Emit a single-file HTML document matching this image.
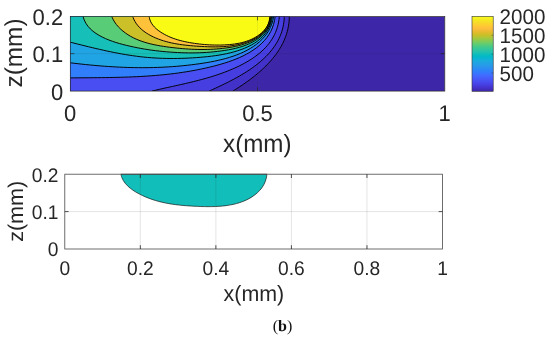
<!DOCTYPE html>
<html><head><meta charset="utf-8"><title>figure</title>
<style>html,body{margin:0;padding:0;background:#fff}svg{display:block}text{text-rendering:geometricPrecision}</style></head>
<body>
<svg width="550" height="339" viewBox="0 0 550 339">
<defs><clipPath id="c1"><rect x="70.3" y="16.4" width="374.5" height="74.7"/></clipPath>
<linearGradient id="cb" x1="0" y1="1" x2="0" y2="0"><stop offset="0.0000" stop-color="#3e26a8"/><stop offset="0.0323" stop-color="#422ec0"/><stop offset="0.0645" stop-color="#4537d6"/><stop offset="0.0968" stop-color="#4742e6"/><stop offset="0.1290" stop-color="#484df1"/><stop offset="0.1613" stop-color="#4759f8"/><stop offset="0.1935" stop-color="#4464fd"/><stop offset="0.2258" stop-color="#3d71ff"/><stop offset="0.2581" stop-color="#317dfc"/><stop offset="0.2903" stop-color="#2d88f6"/><stop offset="0.3226" stop-color="#2a93ed"/><stop offset="0.3548" stop-color="#259de7"/><stop offset="0.3871" stop-color="#1ea6e1"/><stop offset="0.4194" stop-color="#15afd9"/><stop offset="0.4516" stop-color="#05b6cd"/><stop offset="0.4839" stop-color="#06bcc0"/><stop offset="0.5161" stop-color="#1ec0b2"/><stop offset="0.5484" stop-color="#2fc5a3"/><stop offset="0.5806" stop-color="#3cc992"/><stop offset="0.6129" stop-color="#52cc7e"/><stop offset="0.6452" stop-color="#6dcd68"/><stop offset="0.6774" stop-color="#8bcb51"/><stop offset="0.7097" stop-color="#a7c73c"/><stop offset="0.7419" stop-color="#c2c22c"/><stop offset="0.7742" stop-color="#dabd28"/><stop offset="0.8065" stop-color="#eeba34"/><stop offset="0.8387" stop-color="#fdbd3d"/><stop offset="0.8710" stop-color="#fec934"/><stop offset="0.9032" stop-color="#fad52d"/><stop offset="0.9355" stop-color="#f5e227"/><stop offset="0.9677" stop-color="#f5ef20"/><stop offset="1.0000" stop-color="#f9fb15"/></linearGradient></defs>
<rect width="550" height="339" fill="#fff"/>
<g clip-path="url(#c1)">
<rect x="70.3" y="16.4" width="374.5" height="74.7" fill="#3e26a8"/>
<path d="M289.30,16.40 C289.30,16.69 289.29,17.56 289.27,18.13 C289.25,18.71 289.22,19.28 289.19,19.85 C289.15,20.42 289.11,20.99 289.06,21.55 C289.00,22.12 288.94,22.68 288.88,23.24 C288.81,23.79 288.73,24.35 288.65,24.90 C288.57,25.45 288.48,26.00 288.38,26.55 C288.28,27.10 288.17,27.64 288.06,28.18 C287.95,28.72 287.83,29.26 287.70,29.80 C287.57,30.33 287.44,30.86 287.29,31.39 C287.15,31.92 287.00,32.45 286.85,32.97 C286.69,33.50 286.53,34.02 286.36,34.53 C286.19,35.05 286.01,35.57 285.83,36.08 C285.65,36.59 285.46,37.10 285.26,37.61 C285.07,38.12 284.87,38.62 284.66,39.12 C284.45,39.62 284.23,40.12 284.01,40.62 C283.79,41.11 283.57,41.60 283.33,42.10 C283.10,42.59 282.86,43.07 282.62,43.56 C282.37,44.04 282.12,44.52 281.87,45.00 C281.61,45.48 281.35,45.96 281.08,46.43 C280.81,46.91 280.54,47.38 280.26,47.85 C279.99,48.31 279.70,48.78 279.41,49.24 C279.13,49.71 278.83,50.17 278.53,50.62 C278.24,51.08 277.93,51.54 277.62,51.99 C277.32,52.44 277.00,52.89 276.69,53.34 C276.37,53.78 276.05,54.23 275.72,54.67 C275.39,55.11 275.06,55.55 274.72,55.99 C274.39,56.42 274.05,56.86 273.70,57.29 C273.36,57.72 273.01,58.15 272.66,58.57 C272.30,59.00 271.95,59.42 271.59,59.84 C271.23,60.27 270.86,60.68 270.49,61.10 C270.12,61.52 269.75,61.93 269.38,62.34 C269.00,62.75 268.62,63.16 268.24,63.56 C267.86,63.97 267.47,64.37 267.08,64.77 C266.69,65.17 266.30,65.57 265.90,65.96 C265.51,66.36 265.11,66.75 264.71,67.14 C264.30,67.53 263.90,67.92 263.49,68.31 C263.08,68.69 262.67,69.07 262.26,69.45 C261.85,69.84 261.43,70.21 261.01,70.59 C260.59,70.96 260.17,71.34 259.75,71.71 C259.33,72.08 258.90,72.45 258.47,72.81 C258.04,73.18 257.61,73.54 257.18,73.90 C256.75,74.26 256.32,74.62 255.88,74.98 C255.45,75.33 255.01,75.68 254.57,76.04 C254.13,76.39 253.69,76.74 253.25,77.08 C252.80,77.43 252.36,77.77 251.91,78.11 C251.47,78.45 251.02,78.79 250.57,79.13 C250.12,79.47 249.67,79.80 249.22,80.13 C248.77,80.47 248.32,80.80 247.87,81.12 C247.42,81.45 246.96,81.78 246.51,82.10 C246.05,82.42 245.60,82.74 245.14,83.06 C244.69,83.38 244.23,83.69 243.77,84.01 C243.32,84.32 242.86,84.63 242.40,84.94 C241.94,85.25 241.49,85.56 241.03,85.86 C240.57,86.17 240.11,86.47 239.65,86.77 C239.20,87.07 238.74,87.36 238.28,87.66 C237.82,87.96 237.36,88.25 236.91,88.54 C236.45,88.83 235.99,89.12 235.54,89.41 C235.08,89.69 234.62,89.98 234.17,90.26 C233.71,90.54 233.03,90.96 232.80,91.10 L232.80,111.10 L50.30,111.10 L50.30,-3.60 L289.30,-3.60 Z" fill="#4332c9" stroke="none"/>
<path d="M284.31,16.40 C284.29,16.74 284.26,17.76 284.22,18.43 C284.18,19.10 284.12,19.76 284.06,20.42 C283.99,21.08 283.92,21.74 283.83,22.39 C283.74,23.03 283.64,23.68 283.54,24.31 C283.43,24.95 283.31,25.58 283.18,26.21 C283.04,26.83 282.90,27.46 282.75,28.07 C282.60,28.69 282.44,29.30 282.27,29.90 C282.09,30.50 281.91,31.10 281.72,31.70 C281.53,32.29 281.33,32.88 281.12,33.46 C280.90,34.05 280.68,34.62 280.45,35.20 C280.22,35.77 279.98,36.34 279.73,36.90 C279.49,37.46 279.23,38.02 278.96,38.58 C278.69,39.13 278.42,39.68 278.14,40.22 C277.85,40.76 277.56,41.30 277.26,41.83 C276.96,42.37 276.65,42.89 276.33,43.42 C276.01,43.94 275.69,44.46 275.35,44.98 C275.02,45.49 274.68,46.00 274.33,46.50 C273.98,47.01 273.63,47.51 273.26,48.01 C272.90,48.50 272.53,48.99 272.15,49.48 C271.77,49.97 271.39,50.45 271.00,50.93 C270.61,51.40 270.21,51.88 269.80,52.35 C269.40,52.82 268.99,53.28 268.57,53.74 C268.15,54.20 267.73,54.66 267.30,55.11 C266.87,55.56 266.43,56.01 265.99,56.45 C265.55,56.90 265.10,57.34 264.65,57.77 C264.19,58.21 263.74,58.64 263.27,59.07 C262.81,59.50 262.34,59.92 261.86,60.34 C261.39,60.76 260.91,61.18 260.43,61.59 C259.94,62.00 259.45,62.41 258.96,62.82 C258.47,63.22 257.97,63.62 257.47,64.02 C256.97,64.42 256.46,64.81 255.95,65.20 C255.44,65.59 254.92,65.98 254.41,66.36 C253.89,66.74 253.37,67.12 252.84,67.50 C252.32,67.87 251.79,68.24 251.25,68.61 C250.72,68.98 250.19,69.35 249.65,69.71 C249.11,70.07 248.57,70.43 248.02,70.79 C247.48,71.14 246.93,71.50 246.38,71.85 C245.83,72.20 245.28,72.54 244.73,72.89 C244.17,73.23 243.62,73.57 243.06,73.91 C242.50,74.24 241.94,74.58 241.38,74.91 C240.82,75.24 240.25,75.57 239.69,75.89 C239.12,76.22 238.55,76.54 237.98,76.86 C237.42,77.18 236.85,77.50 236.28,77.81 C235.71,78.13 235.13,78.44 234.56,78.75 C233.99,79.06 233.42,79.36 232.84,79.67 C232.27,79.97 231.69,80.27 231.12,80.57 C230.54,80.87 229.97,81.16 229.39,81.46 C228.82,81.75 228.24,82.04 227.67,82.33 C227.09,82.62 226.52,82.90 225.95,83.19 C225.37,83.47 224.80,83.75 224.23,84.03 C223.65,84.31 223.08,84.59 222.51,84.87 C221.94,85.14 221.37,85.41 220.80,85.69 C220.23,85.96 219.66,86.23 219.09,86.49 C218.53,86.76 217.96,87.02 217.40,87.29 C216.84,87.55 216.27,87.81 215.72,88.07 C215.16,88.33 214.60,88.59 214.04,88.84 C213.49,89.10 212.93,89.35 212.38,89.61 C211.83,89.86 211.28,90.11 210.74,90.36 C210.19,90.61 209.38,90.97 209.11,91.10 L209.11,111.10 L50.30,111.10 L50.30,-3.60 L284.31,-3.60 Z" fill="#463ee1" stroke="none"/>
<path d="M279.32,16.40 C279.27,16.88 279.16,18.33 279.04,19.27 C278.93,20.21 278.79,21.14 278.62,22.05 C278.46,22.97 278.27,23.87 278.06,24.75 C277.85,25.64 277.62,26.51 277.36,27.36 C277.10,28.22 276.83,29.06 276.53,29.89 C276.23,30.72 275.90,31.54 275.56,32.34 C275.22,33.14 274.86,33.93 274.48,34.71 C274.10,35.49 273.70,36.25 273.28,37.00 C272.86,37.75 272.42,38.49 271.96,39.21 C271.50,39.94 271.03,40.65 270.54,41.35 C270.04,42.06 269.53,42.74 269.01,43.42 C268.48,44.10 267.94,44.77 267.39,45.42 C266.83,46.07 266.26,46.72 265.67,47.35 C265.08,47.98 264.48,48.60 263.86,49.21 C263.25,49.82 262.62,50.42 261.98,51.00 C261.34,51.59 260.68,52.17 260.01,52.73 C259.35,53.30 258.67,53.86 257.98,54.40 C257.29,54.95 256.58,55.48 255.87,56.01 C255.16,56.54 254.44,57.05 253.71,57.56 C252.98,58.07 252.23,58.56 251.48,59.05 C250.73,59.54 249.97,60.02 249.21,60.49 C248.44,60.96 247.67,61.42 246.88,61.87 C246.10,62.33 245.31,62.77 244.52,63.20 C243.73,63.64 242.92,64.07 242.12,64.49 C241.31,64.90 240.50,65.32 239.68,65.72 C238.87,66.12 238.05,66.52 237.22,66.90 C236.40,67.29 235.57,67.67 234.74,68.05 C233.91,68.42 233.08,68.79 232.24,69.14 C231.40,69.50 230.57,69.85 229.73,70.20 C228.89,70.55 228.04,70.88 227.20,71.22 C226.35,71.55 225.51,71.88 224.66,72.20 C223.81,72.52 222.96,72.83 222.11,73.14 C221.26,73.45 220.40,73.75 219.55,74.04 C218.69,74.34 217.83,74.63 216.97,74.92 C216.12,75.21 215.26,75.49 214.39,75.76 C213.53,76.04 212.67,76.31 211.80,76.58 C210.94,76.84 210.07,77.10 209.21,77.36 C208.34,77.62 207.47,77.87 206.60,78.12 C205.73,78.37 204.86,78.62 203.99,78.86 C203.12,79.10 202.25,79.34 201.38,79.57 C200.51,79.80 199.63,80.03 198.76,80.26 C197.89,80.49 197.01,80.71 196.14,80.93 C195.26,81.16 194.39,81.37 193.51,81.59 C192.64,81.81 191.76,82.02 190.88,82.23 C190.01,82.44 189.13,82.65 188.26,82.85 C187.38,83.06 186.50,83.27 185.63,83.47 C184.75,83.67 183.87,83.87 183.00,84.07 C182.12,84.27 181.25,84.47 180.37,84.66 C179.50,84.86 178.62,85.06 177.75,85.25 C176.87,85.45 176.00,85.64 175.13,85.83 C174.25,86.03 173.38,86.22 172.51,86.41 C171.64,86.60 170.77,86.79 169.90,86.99 C169.03,87.18 168.16,87.37 167.29,87.56 C166.42,87.75 165.55,87.95 164.69,88.14 C163.82,88.33 162.96,88.52 162.10,88.72 C161.23,88.91 160.37,89.11 159.51,89.30 C158.65,89.50 157.79,89.70 156.93,89.90 C156.07,90.09 155.22,90.29 154.36,90.50 C153.51,90.70 152.23,91.00 151.81,91.11 L151.81,111.10 L50.30,111.10 L50.30,-3.60 L279.32,-3.60 Z" fill="#484ef1" stroke="none"/>
<path d="M275.11,16.41 C275.02,17.09 274.78,19.17 274.53,20.50 C274.28,21.82 273.96,23.11 273.59,24.36 C273.22,25.61 272.80,26.82 272.32,28.00 C271.85,29.18 271.32,30.33 270.75,31.44 C270.17,32.55 269.55,33.62 268.89,34.67 C268.22,35.71 267.51,36.72 266.77,37.70 C266.02,38.68 265.23,39.63 264.40,40.55 C263.58,41.47 262.72,42.35 261.83,43.21 C260.94,44.07 260.01,44.90 259.06,45.71 C258.11,46.51 257.12,47.29 256.12,48.04 C255.11,48.80 254.08,49.52 253.03,50.22 C251.98,50.92 250.90,51.60 249.81,52.25 C248.72,52.91 247.61,53.54 246.48,54.14 C245.36,54.75 244.21,55.34 243.05,55.91 C241.89,56.47 240.71,57.02 239.52,57.54 C238.34,58.07 237.13,58.58 235.92,59.07 C234.71,59.56 233.48,60.03 232.24,60.48 C231.01,60.94 229.76,61.38 228.51,61.80 C227.26,62.23 226.00,62.63 224.73,63.03 C223.47,63.42 222.19,63.81 220.92,64.17 C219.64,64.54 218.36,64.90 217.08,65.24 C215.80,65.59 214.51,65.92 213.23,66.25 C211.94,66.57 210.66,66.89 209.37,67.19 C208.09,67.50 206.80,67.79 205.52,68.08 C204.24,68.37 202.95,68.65 201.67,68.92 C200.39,69.19 199.11,69.45 197.82,69.70 C196.54,69.96 195.26,70.20 193.98,70.44 C192.70,70.68 191.42,70.91 190.13,71.13 C188.85,71.35 187.57,71.56 186.29,71.77 C185.01,71.98 183.73,72.18 182.45,72.37 C181.17,72.56 179.89,72.75 178.61,72.93 C177.33,73.10 176.05,73.27 174.77,73.44 C173.49,73.60 172.21,73.76 170.93,73.91 C169.65,74.07 168.37,74.21 167.09,74.35 C165.80,74.49 164.52,74.62 163.24,74.75 C161.96,74.88 160.68,75.00 159.40,75.12 C158.12,75.24 156.84,75.35 155.56,75.45 C154.28,75.56 153.00,75.66 151.72,75.76 C150.43,75.85 149.15,75.94 147.87,76.03 C146.59,76.12 145.31,76.20 144.02,76.28 C142.74,76.35 141.46,76.43 140.18,76.50 C138.89,76.56 137.61,76.63 136.33,76.69 C135.04,76.75 133.76,76.81 132.47,76.86 C131.19,76.92 129.90,76.97 128.62,77.02 C127.33,77.06 126.05,77.11 124.76,77.15 C123.47,77.19 122.19,77.23 120.90,77.26 C119.61,77.30 118.32,77.33 117.03,77.36 C115.74,77.39 114.45,77.42 113.16,77.45 C111.87,77.47 110.58,77.50 109.29,77.52 C108.00,77.54 106.71,77.56 105.42,77.58 C104.12,77.60 102.83,77.61 101.53,77.63 C100.24,77.65 98.95,77.66 97.65,77.67 C96.35,77.69 95.06,77.70 93.76,77.71 C92.46,77.72 91.16,77.74 89.86,77.75 C88.56,77.76 87.26,77.77 85.96,77.78 C84.66,77.79 83.36,77.80 82.06,77.81 C80.75,77.82 79.45,77.83 78.14,77.84 C76.84,77.85 75.53,77.86 74.22,77.87 C72.92,77.88 70.95,77.90 70.30,77.91 L50.30,77.91 L50.30,-3.60 L275.11,-3.60 Z" fill="#317efb" stroke="none"/>
<path d="M273.72,16.41 C273.58,17.07 273.22,19.09 272.89,20.37 C272.56,21.65 272.17,22.89 271.74,24.10 C271.30,25.30 270.82,26.47 270.29,27.60 C269.76,28.73 269.18,29.82 268.57,30.88 C267.95,31.94 267.28,32.96 266.58,33.95 C265.88,34.94 265.14,35.90 264.36,36.82 C263.58,37.75 262.76,38.64 261.92,39.50 C261.07,40.36 260.18,41.19 259.27,41.99 C258.36,42.80 257.41,43.57 256.44,44.31 C255.47,45.05 254.47,45.77 253.45,46.45 C252.43,47.14 251.38,47.80 250.31,48.44 C249.24,49.07 248.15,49.68 247.05,50.27 C245.94,50.85 244.82,51.41 243.68,51.95 C242.54,52.49 241.38,53.00 240.22,53.50 C239.06,53.99 237.88,54.46 236.69,54.92 C235.51,55.37 234.31,55.80 233.10,56.21 C231.90,56.63 230.68,57.02 229.46,57.40 C228.23,57.77 227.00,58.13 225.76,58.48 C224.53,58.82 223.28,59.14 222.03,59.46 C220.78,59.77 219.52,60.07 218.26,60.35 C217.00,60.63 215.74,60.90 214.47,61.16 C213.20,61.42 211.93,61.67 210.66,61.90 C209.38,62.14 208.11,62.36 206.83,62.58 C205.55,62.79 204.28,63.00 203.00,63.20 C201.72,63.39 200.44,63.58 199.17,63.77 C197.89,63.95 196.62,64.12 195.34,64.29 C194.07,64.46 192.80,64.62 191.53,64.78 C190.25,64.94 188.98,65.08 187.71,65.23 C186.44,65.37 185.18,65.50 183.91,65.63 C182.64,65.76 181.37,65.88 180.11,66.00 C178.84,66.12 177.57,66.23 176.31,66.33 C175.05,66.43 173.78,66.53 172.52,66.62 C171.25,66.71 169.99,66.80 168.73,66.87 C167.47,66.95 166.21,67.03 164.95,67.09 C163.68,67.16 162.42,67.22 161.16,67.28 C159.90,67.33 158.65,67.38 157.39,67.42 C156.13,67.47 154.87,67.51 153.61,67.54 C152.35,67.57 151.09,67.60 149.84,67.62 C148.58,67.64 147.32,67.66 146.06,67.67 C144.81,67.68 143.55,67.68 142.29,67.68 C141.03,67.68 139.78,67.68 138.52,67.67 C137.26,67.65 136.01,67.64 134.75,67.62 C133.49,67.60 132.24,67.57 130.98,67.54 C129.72,67.51 128.47,67.48 127.21,67.44 C125.95,67.40 124.69,67.35 123.44,67.30 C122.18,67.25 120.92,67.20 119.66,67.14 C118.41,67.08 117.15,67.02 115.89,66.95 C114.63,66.88 113.37,66.81 112.11,66.73 C110.85,66.66 109.59,66.58 108.33,66.49 C107.07,66.41 105.81,66.32 104.55,66.23 C103.29,66.13 102.02,66.04 100.76,65.93 C99.50,65.83 98.23,65.73 96.97,65.62 C95.71,65.51 94.44,65.40 93.18,65.28 C91.91,65.16 90.64,65.04 89.38,64.92 C88.11,64.80 86.84,64.67 85.57,64.54 C84.30,64.41 83.03,64.27 81.76,64.13 C80.49,64.00 79.22,63.86 77.95,63.71 C76.67,63.57 75.40,63.42 74.13,63.27 C72.85,63.12 70.94,62.88 70.30,62.81 L50.30,62.81 L50.30,-3.60 L273.72,-3.60 Z" fill="#20a4e3" stroke="none"/>
<path d="M272.52,16.40 C272.38,17.07 272.03,19.13 271.69,20.42 C271.36,21.71 270.96,22.95 270.51,24.15 C270.07,25.35 269.56,26.50 269.01,27.61 C268.45,28.72 267.85,29.78 267.20,30.81 C266.55,31.83 265.85,32.81 265.11,33.75 C264.37,34.69 263.58,35.59 262.76,36.45 C261.93,37.31 261.07,38.13 260.17,38.92 C259.28,39.71 258.34,40.46 257.38,41.17 C256.42,41.89 255.42,42.57 254.40,43.22 C253.38,43.87 252.33,44.48 251.25,45.07 C250.18,45.66 249.08,46.21 247.97,46.74 C246.85,47.27 245.72,47.77 244.57,48.24 C243.42,48.72 242.25,49.16 241.07,49.59 C239.89,50.02 238.70,50.42 237.50,50.80 C236.31,51.18 235.10,51.54 233.89,51.88 C232.67,52.22 231.45,52.53 230.23,52.84 C229.00,53.14 227.77,53.42 226.53,53.69 C225.30,53.95 224.05,54.20 222.81,54.44 C221.56,54.67 220.31,54.89 219.06,55.10 C217.81,55.30 216.55,55.49 215.29,55.67 C214.03,55.85 212.77,56.01 211.51,56.17 C210.24,56.33 208.98,56.47 207.71,56.61 C206.45,56.74 205.18,56.87 203.91,56.98 C202.65,57.10 201.38,57.21 200.12,57.32 C198.85,57.42 197.59,57.52 196.32,57.61 C195.06,57.70 193.80,57.78 192.54,57.86 C191.28,57.93 190.02,58.01 188.76,58.07 C187.50,58.13 186.25,58.19 184.99,58.24 C183.73,58.29 182.48,58.33 181.22,58.37 C179.97,58.40 178.72,58.43 177.46,58.45 C176.21,58.47 174.96,58.48 173.71,58.49 C172.46,58.50 171.21,58.49 169.96,58.48 C168.71,58.47 167.47,58.46 166.22,58.43 C164.97,58.41 163.73,58.37 162.48,58.33 C161.24,58.29 159.99,58.24 158.75,58.18 C157.51,58.12 156.26,58.06 155.02,57.98 C153.78,57.91 152.54,57.83 151.30,57.73 C150.06,57.64 148.82,57.54 147.58,57.43 C146.34,57.32 145.11,57.21 143.87,57.08 C142.63,56.95 141.40,56.82 140.16,56.67 C138.92,56.53 137.69,56.37 136.45,56.21 C135.22,56.05 133.99,55.88 132.75,55.70 C131.52,55.53 130.29,55.34 129.06,55.15 C127.83,54.96 126.59,54.76 125.36,54.55 C124.13,54.35 122.90,54.13 121.67,53.91 C120.44,53.69 119.22,53.47 117.99,53.23 C116.76,53.00 115.53,52.76 114.30,52.52 C113.08,52.28 111.85,52.03 110.62,51.78 C109.40,51.52 108.17,51.26 106.95,51.00 C105.72,50.74 104.50,50.47 103.27,50.20 C102.05,49.92 100.82,49.65 99.60,49.37 C98.38,49.09 97.15,48.81 95.93,48.52 C94.71,48.23 93.49,47.94 92.26,47.65 C91.04,47.36 89.82,47.06 88.60,46.77 C87.38,46.47 86.16,46.17 84.94,45.87 C83.72,45.57 82.49,45.26 81.27,44.96 C80.05,44.65 78.83,44.35 77.61,44.04 C76.40,43.74 75.18,43.43 73.96,43.12 C72.74,42.81 70.91,42.35 70.30,42.19 L50.30,42.19 L50.30,-3.60 L272.52,-3.60 Z" fill="#16bfb7" stroke="none"/>
<path d="M271.61,16.40 C271.51,17.03 271.27,18.97 270.99,20.19 C270.71,21.41 270.34,22.59 269.91,23.73 C269.49,24.87 268.98,25.97 268.43,27.02 C267.87,28.08 267.24,29.10 266.57,30.07 C265.89,31.05 265.16,31.98 264.38,32.88 C263.60,33.78 262.76,34.63 261.89,35.45 C261.02,36.27 260.09,37.05 259.14,37.79 C258.19,38.54 257.20,39.24 256.18,39.91 C255.17,40.58 254.11,41.21 253.04,41.80 C251.97,42.40 250.87,42.96 249.76,43.48 C248.65,44.00 247.52,44.49 246.38,44.94 C245.23,45.40 244.07,45.82 242.91,46.22 C241.74,46.61 240.55,46.98 239.36,47.32 C238.17,47.66 236.97,47.97 235.77,48.27 C234.56,48.56 233.35,48.83 232.13,49.08 C230.92,49.34 229.70,49.57 228.48,49.79 C227.26,50.01 226.04,50.21 224.82,50.40 C223.60,50.59 222.38,50.77 221.16,50.94 C219.95,51.11 218.73,51.26 217.52,51.41 C216.31,51.55 215.10,51.69 213.89,51.81 C212.67,51.93 211.46,52.04 210.26,52.14 C209.05,52.24 207.84,52.33 206.63,52.41 C205.42,52.49 204.21,52.56 203.01,52.62 C201.80,52.68 200.59,52.73 199.39,52.77 C198.18,52.81 196.97,52.84 195.76,52.87 C194.56,52.89 193.35,52.90 192.14,52.90 C190.93,52.91 189.73,52.90 188.52,52.89 C187.31,52.87 186.10,52.85 184.88,52.82 C183.67,52.79 182.46,52.75 181.25,52.71 C180.03,52.66 178.82,52.61 177.60,52.54 C176.38,52.48 175.17,52.41 173.95,52.34 C172.73,52.26 171.50,52.18 170.28,52.09 C169.06,52.00 167.83,51.90 166.60,51.80 C165.37,51.69 164.14,51.58 162.91,51.47 C161.68,51.35 160.45,51.22 159.22,51.09 C157.99,50.95 156.76,50.81 155.53,50.66 C154.30,50.51 153.07,50.35 151.84,50.18 C150.61,50.01 149.38,49.84 148.15,49.65 C146.92,49.46 145.69,49.27 144.47,49.06 C143.24,48.86 142.02,48.64 140.80,48.42 C139.58,48.19 138.37,47.95 137.15,47.71 C135.94,47.47 134.73,47.22 133.52,46.96 C132.32,46.70 131.11,46.44 129.91,46.16 C128.72,45.89 127.52,45.61 126.33,45.33 C125.15,45.04 123.96,44.74 122.78,44.44 C121.61,44.13 120.43,43.81 119.27,43.48 C118.10,43.15 116.94,42.80 115.79,42.44 C114.64,42.07 113.49,41.69 112.35,41.29 C111.21,40.89 110.08,40.47 108.96,40.03 C107.84,39.58 106.72,39.12 105.62,38.63 C104.51,38.14 103.41,37.62 102.32,37.08 C101.24,36.53 100.15,35.96 99.10,35.36 C98.05,34.75 97.00,34.12 96.00,33.44 C94.99,32.77 94.00,32.06 93.07,31.31 C92.13,30.56 91.22,29.77 90.37,28.93 C89.52,28.09 88.71,27.20 87.97,26.27 C87.23,25.33 86.53,24.35 85.91,23.31 C85.30,22.27 84.74,21.18 84.26,20.03 C83.79,18.88 83.27,17.01 83.07,16.40 L83.07,-3.60 L271.61,-3.60 Z" fill="#59cc78" stroke="none"/>
<path d="M270.91,16.40 C270.84,16.96 270.68,18.67 270.47,19.75 C270.26,20.83 269.99,21.87 269.66,22.87 C269.33,23.88 268.93,24.84 268.49,25.77 C268.05,26.70 267.55,27.59 267.01,28.44 C266.46,29.30 265.87,30.12 265.23,30.90 C264.60,31.69 263.92,32.44 263.21,33.16 C262.49,33.88 261.74,34.57 260.95,35.23 C260.17,35.89 259.35,36.51 258.51,37.11 C257.66,37.70 256.79,38.27 255.90,38.81 C255.00,39.34 254.08,39.85 253.15,40.33 C252.22,40.82 251.27,41.27 250.31,41.70 C249.35,42.13 248.38,42.53 247.40,42.91 C246.42,43.29 245.43,43.64 244.43,43.98 C243.43,44.31 242.42,44.62 241.41,44.91 C240.40,45.21 239.38,45.48 238.35,45.73 C237.32,45.98 236.29,46.22 235.26,46.44 C234.23,46.65 233.19,46.85 232.15,47.04 C231.11,47.23 230.06,47.40 229.02,47.56 C227.98,47.73 226.93,47.87 225.89,48.01 C224.84,48.15 223.80,48.27 222.76,48.39 C221.72,48.51 220.68,48.62 219.64,48.71 C218.60,48.81 217.56,48.90 216.52,48.98 C215.49,49.06 214.45,49.13 213.41,49.19 C212.38,49.25 211.34,49.30 210.30,49.34 C209.27,49.39 208.23,49.42 207.20,49.44 C206.16,49.47 205.13,49.49 204.09,49.50 C203.06,49.51 202.03,49.51 200.99,49.50 C199.96,49.49 198.92,49.48 197.89,49.46 C196.85,49.44 195.82,49.41 194.78,49.37 C193.75,49.33 192.71,49.29 191.68,49.24 C190.64,49.19 189.61,49.13 188.57,49.06 C187.53,49.00 186.49,48.93 185.46,48.85 C184.42,48.77 183.38,48.69 182.34,48.60 C181.30,48.51 180.26,48.41 179.21,48.31 C178.17,48.21 177.13,48.10 176.08,47.99 C175.04,47.88 173.99,47.76 172.95,47.63 C171.90,47.51 170.85,47.38 169.80,47.25 C168.75,47.11 167.70,46.98 166.64,46.83 C165.59,46.68 164.54,46.53 163.49,46.37 C162.44,46.21 161.38,46.05 160.34,45.87 C159.29,45.69 158.24,45.51 157.20,45.31 C156.15,45.11 155.11,44.90 154.08,44.68 C153.04,44.46 152.01,44.23 150.98,43.98 C149.96,43.74 148.93,43.48 147.92,43.20 C146.91,42.93 145.90,42.64 144.90,42.33 C143.90,42.03 142.90,41.71 141.92,41.36 C140.94,41.02 139.96,40.67 139.00,40.29 C138.04,39.91 137.08,39.51 136.14,39.10 C135.20,38.68 134.26,38.24 133.34,37.78 C132.42,37.32 131.52,36.84 130.62,36.33 C129.73,35.82 128.85,35.29 127.98,34.74 C127.12,34.19 126.27,33.61 125.43,33.01 C124.60,32.41 123.78,31.78 122.98,31.13 C122.18,30.48 121.39,29.80 120.63,29.10 C119.87,28.39 119.13,27.66 118.42,26.90 C117.72,26.14 117.03,25.36 116.39,24.54 C115.75,23.72 115.14,22.88 114.58,22.01 C114.02,21.13 113.50,20.23 113.03,19.30 C112.56,18.36 111.98,16.89 111.77,16.41 L111.77,-3.60 L270.91,-3.60 Z" fill="#ccc028" stroke="none"/>
<path d="M270.32,16.40 C270.24,16.89 270.04,18.39 269.83,19.33 C269.63,20.28 269.38,21.19 269.09,22.07 C268.80,22.96 268.46,23.81 268.09,24.63 C267.72,25.46 267.31,26.25 266.86,27.02 C266.42,27.78 265.93,28.52 265.42,29.23 C264.91,29.94 264.36,30.63 263.78,31.29 C263.20,31.94 262.59,32.57 261.95,33.18 C261.32,33.79 260.65,34.37 259.96,34.92 C259.28,35.48 258.56,36.01 257.82,36.52 C257.09,37.03 256.33,37.51 255.55,37.97 C254.78,38.44 253.98,38.88 253.17,39.30 C252.36,39.71 251.52,40.11 250.68,40.49 C249.84,40.86 248.98,41.22 248.12,41.56 C247.25,41.89 246.37,42.21 245.48,42.51 C244.60,42.81 243.70,43.08 242.80,43.35 C241.90,43.61 241.00,43.85 240.09,44.08 C239.18,44.31 238.27,44.52 237.36,44.71 C236.45,44.91 235.54,45.09 234.63,45.25 C233.72,45.42 232.81,45.57 231.91,45.70 C231.00,45.84 230.09,45.96 229.18,46.07 C228.27,46.18 227.37,46.28 226.46,46.36 C225.55,46.45 224.65,46.52 223.74,46.58 C222.83,46.64 221.92,46.69 221.01,46.73 C220.11,46.78 219.20,46.81 218.29,46.83 C217.38,46.85 216.47,46.86 215.56,46.87 C214.65,46.87 213.74,46.87 212.83,46.86 C211.92,46.85 211.01,46.83 210.09,46.81 C209.18,46.79 208.27,46.76 207.35,46.72 C206.44,46.69 205.52,46.65 204.60,46.60 C203.69,46.56 202.77,46.51 201.85,46.46 C200.93,46.41 200.01,46.35 199.08,46.30 C198.16,46.24 197.24,46.18 196.31,46.12 C195.39,46.05 194.46,45.98 193.54,45.91 C192.61,45.84 191.68,45.76 190.76,45.68 C189.83,45.60 188.91,45.51 187.98,45.42 C187.05,45.33 186.13,45.23 185.21,45.12 C184.28,45.01 183.36,44.90 182.44,44.78 C181.52,44.66 180.60,44.53 179.68,44.39 C178.77,44.25 177.85,44.11 176.94,43.95 C176.03,43.80 175.12,43.63 174.22,43.46 C173.31,43.28 172.41,43.10 171.51,42.90 C170.61,42.71 169.71,42.50 168.82,42.28 C167.93,42.06 167.05,41.83 166.16,41.59 C165.28,41.35 164.40,41.09 163.53,40.82 C162.66,40.55 161.79,40.27 160.93,39.98 C160.07,39.68 159.22,39.37 158.37,39.04 C157.52,38.72 156.67,38.38 155.84,38.02 C155.00,37.67 154.17,37.29 153.35,36.91 C152.53,36.52 151.71,36.11 150.91,35.69 C150.10,35.27 149.30,34.83 148.52,34.37 C147.74,33.91 146.96,33.43 146.21,32.93 C145.45,32.43 144.71,31.91 143.99,31.37 C143.27,30.83 142.56,30.27 141.88,29.68 C141.20,29.10 140.54,28.49 139.91,27.86 C139.28,27.23 138.67,26.57 138.09,25.89 C137.51,25.21 136.95,24.50 136.43,23.77 C135.91,23.04 135.42,22.28 134.97,21.49 C134.51,20.70 134.09,19.88 133.71,19.04 C133.33,18.19 132.85,16.85 132.68,16.41 L132.68,-3.60 L270.32,-3.60 Z" fill="#fec13a" stroke="none"/>
<path d="M269.72,16.39 C269.69,16.83 269.68,18.19 269.57,19.05 C269.46,19.91 269.30,20.74 269.09,21.54 C268.87,22.35 268.61,23.13 268.30,23.88 C267.99,24.63 267.64,25.36 267.25,26.06 C266.86,26.76 266.42,27.44 265.96,28.09 C265.50,28.74 265.00,29.37 264.48,29.97 C263.96,30.58 263.40,31.16 262.83,31.72 C262.26,32.28 261.66,32.81 261.05,33.33 C260.44,33.85 259.81,34.34 259.17,34.81 C258.54,35.28 257.88,35.74 257.22,36.17 C256.56,36.60 255.88,37.01 255.20,37.41 C254.51,37.80 253.81,38.17 253.11,38.53 C252.40,38.88 251.68,39.22 250.96,39.54 C250.23,39.86 249.49,40.16 248.75,40.45 C248.00,40.74 247.25,41.00 246.49,41.26 C245.73,41.51 244.96,41.75 244.18,41.97 C243.40,42.20 242.62,42.41 241.83,42.60 C241.04,42.79 240.24,42.97 239.44,43.14 C238.64,43.31 237.83,43.46 237.02,43.60 C236.21,43.75 235.39,43.87 234.57,43.99 C233.74,44.11 232.92,44.21 232.09,44.31 C231.26,44.41 230.43,44.49 229.59,44.57 C228.76,44.64 227.92,44.71 227.08,44.76 C226.24,44.82 225.40,44.86 224.55,44.90 C223.71,44.94 222.87,44.97 222.03,45.00 C221.18,45.02 220.34,45.04 219.49,45.05 C218.65,45.06 217.81,45.06 216.96,45.05 C216.12,45.05 215.28,45.04 214.44,45.02 C213.60,45.01 212.76,44.98 211.92,44.95 C211.08,44.92 210.24,44.89 209.40,44.84 C208.56,44.80 207.73,44.75 206.89,44.69 C206.06,44.64 205.22,44.57 204.39,44.51 C203.56,44.44 202.73,44.36 201.90,44.28 C201.07,44.20 200.24,44.11 199.42,44.01 C198.59,43.92 197.77,43.82 196.95,43.71 C196.13,43.61 195.31,43.49 194.50,43.37 C193.68,43.25 192.87,43.13 192.05,42.99 C191.24,42.86 190.44,42.72 189.63,42.58 C188.82,42.43 188.02,42.28 187.22,42.13 C186.42,41.97 185.63,41.80 184.83,41.63 C184.04,41.46 183.25,41.28 182.46,41.09 C181.68,40.90 180.89,40.70 180.12,40.49 C179.34,40.28 178.56,40.06 177.79,39.83 C177.02,39.60 176.25,39.36 175.49,39.11 C174.72,38.86 173.96,38.59 173.21,38.32 C172.45,38.04 171.70,37.75 170.95,37.45 C170.21,37.14 169.46,36.83 168.73,36.50 C167.99,36.16 167.26,35.82 166.53,35.45 C165.80,35.09 165.08,34.72 164.36,34.32 C163.64,33.93 162.93,33.52 162.22,33.09 C161.52,32.66 160.81,32.21 160.13,31.75 C159.44,31.28 158.76,30.80 158.10,30.30 C157.45,29.80 156.80,29.27 156.19,28.73 C155.58,28.19 154.98,27.62 154.43,27.03 C153.87,26.45 153.34,25.84 152.85,25.21 C152.36,24.57 151.90,23.92 151.50,23.24 C151.09,22.56 150.72,21.86 150.41,21.13 C150.10,20.40 149.83,19.64 149.63,18.86 C149.42,18.08 149.25,16.84 149.18,16.43 L149.18,-3.60 L269.72,-3.60 Z" fill="#f9fb15" stroke="none"/>
<path d="M289.30,16.40 C289.30,16.69 289.29,17.56 289.27,18.13 C289.25,18.71 289.22,19.28 289.19,19.85 C289.15,20.42 289.11,20.99 289.06,21.55 C289.00,22.12 288.94,22.68 288.88,23.24 C288.81,23.79 288.73,24.35 288.65,24.90 C288.57,25.45 288.48,26.00 288.38,26.55 C288.28,27.10 288.17,27.64 288.06,28.18 C287.95,28.72 287.83,29.26 287.70,29.80 C287.57,30.33 287.44,30.86 287.29,31.39 C287.15,31.92 287.00,32.45 286.85,32.97 C286.69,33.50 286.53,34.02 286.36,34.53 C286.19,35.05 286.01,35.57 285.83,36.08 C285.65,36.59 285.46,37.10 285.26,37.61 C285.07,38.12 284.87,38.62 284.66,39.12 C284.45,39.62 284.23,40.12 284.01,40.62 C283.79,41.11 283.57,41.60 283.33,42.10 C283.10,42.59 282.86,43.07 282.62,43.56 C282.37,44.04 282.12,44.52 281.87,45.00 C281.61,45.48 281.35,45.96 281.08,46.43 C280.81,46.91 280.54,47.38 280.26,47.85 C279.99,48.31 279.70,48.78 279.41,49.24 C279.13,49.71 278.83,50.17 278.53,50.62 C278.24,51.08 277.93,51.54 277.62,51.99 C277.32,52.44 277.00,52.89 276.69,53.34 C276.37,53.78 276.05,54.23 275.72,54.67 C275.39,55.11 275.06,55.55 274.72,55.99 C274.39,56.42 274.05,56.86 273.70,57.29 C273.36,57.72 273.01,58.15 272.66,58.57 C272.30,59.00 271.95,59.42 271.59,59.84 C271.23,60.27 270.86,60.68 270.49,61.10 C270.12,61.52 269.75,61.93 269.38,62.34 C269.00,62.75 268.62,63.16 268.24,63.56 C267.86,63.97 267.47,64.37 267.08,64.77 C266.69,65.17 266.30,65.57 265.90,65.96 C265.51,66.36 265.11,66.75 264.71,67.14 C264.30,67.53 263.90,67.92 263.49,68.31 C263.08,68.69 262.67,69.07 262.26,69.45 C261.85,69.84 261.43,70.21 261.01,70.59 C260.59,70.96 260.17,71.34 259.75,71.71 C259.33,72.08 258.90,72.45 258.47,72.81 C258.04,73.18 257.61,73.54 257.18,73.90 C256.75,74.26 256.32,74.62 255.88,74.98 C255.45,75.33 255.01,75.68 254.57,76.04 C254.13,76.39 253.69,76.74 253.25,77.08 C252.80,77.43 252.36,77.77 251.91,78.11 C251.47,78.45 251.02,78.79 250.57,79.13 C250.12,79.47 249.67,79.80 249.22,80.13 C248.77,80.47 248.32,80.80 247.87,81.12 C247.42,81.45 246.96,81.78 246.51,82.10 C246.05,82.42 245.60,82.74 245.14,83.06 C244.69,83.38 244.23,83.69 243.77,84.01 C243.32,84.32 242.86,84.63 242.40,84.94 C241.94,85.25 241.49,85.56 241.03,85.86 C240.57,86.17 240.11,86.47 239.65,86.77 C239.20,87.07 238.74,87.36 238.28,87.66 C237.82,87.96 237.36,88.25 236.91,88.54 C236.45,88.83 235.99,89.12 235.54,89.41 C235.08,89.69 234.62,89.98 234.17,90.26 C233.71,90.54 233.03,90.96 232.80,91.10" fill="none" stroke="#000" stroke-width="0.95"/>
<path d="M284.31,16.40 C284.29,16.74 284.26,17.76 284.22,18.43 C284.18,19.10 284.12,19.76 284.06,20.42 C283.99,21.08 283.92,21.74 283.83,22.39 C283.74,23.03 283.64,23.68 283.54,24.31 C283.43,24.95 283.31,25.58 283.18,26.21 C283.04,26.83 282.90,27.46 282.75,28.07 C282.60,28.69 282.44,29.30 282.27,29.90 C282.09,30.50 281.91,31.10 281.72,31.70 C281.53,32.29 281.33,32.88 281.12,33.46 C280.90,34.05 280.68,34.62 280.45,35.20 C280.22,35.77 279.98,36.34 279.73,36.90 C279.49,37.46 279.23,38.02 278.96,38.58 C278.69,39.13 278.42,39.68 278.14,40.22 C277.85,40.76 277.56,41.30 277.26,41.83 C276.96,42.37 276.65,42.89 276.33,43.42 C276.01,43.94 275.69,44.46 275.35,44.98 C275.02,45.49 274.68,46.00 274.33,46.50 C273.98,47.01 273.63,47.51 273.26,48.01 C272.90,48.50 272.53,48.99 272.15,49.48 C271.77,49.97 271.39,50.45 271.00,50.93 C270.61,51.40 270.21,51.88 269.80,52.35 C269.40,52.82 268.99,53.28 268.57,53.74 C268.15,54.20 267.73,54.66 267.30,55.11 C266.87,55.56 266.43,56.01 265.99,56.45 C265.55,56.90 265.10,57.34 264.65,57.77 C264.19,58.21 263.74,58.64 263.27,59.07 C262.81,59.50 262.34,59.92 261.86,60.34 C261.39,60.76 260.91,61.18 260.43,61.59 C259.94,62.00 259.45,62.41 258.96,62.82 C258.47,63.22 257.97,63.62 257.47,64.02 C256.97,64.42 256.46,64.81 255.95,65.20 C255.44,65.59 254.92,65.98 254.41,66.36 C253.89,66.74 253.37,67.12 252.84,67.50 C252.32,67.87 251.79,68.24 251.25,68.61 C250.72,68.98 250.19,69.35 249.65,69.71 C249.11,70.07 248.57,70.43 248.02,70.79 C247.48,71.14 246.93,71.50 246.38,71.85 C245.83,72.20 245.28,72.54 244.73,72.89 C244.17,73.23 243.62,73.57 243.06,73.91 C242.50,74.24 241.94,74.58 241.38,74.91 C240.82,75.24 240.25,75.57 239.69,75.89 C239.12,76.22 238.55,76.54 237.98,76.86 C237.42,77.18 236.85,77.50 236.28,77.81 C235.71,78.13 235.13,78.44 234.56,78.75 C233.99,79.06 233.42,79.36 232.84,79.67 C232.27,79.97 231.69,80.27 231.12,80.57 C230.54,80.87 229.97,81.16 229.39,81.46 C228.82,81.75 228.24,82.04 227.67,82.33 C227.09,82.62 226.52,82.90 225.95,83.19 C225.37,83.47 224.80,83.75 224.23,84.03 C223.65,84.31 223.08,84.59 222.51,84.87 C221.94,85.14 221.37,85.41 220.80,85.69 C220.23,85.96 219.66,86.23 219.09,86.49 C218.53,86.76 217.96,87.02 217.40,87.29 C216.84,87.55 216.27,87.81 215.72,88.07 C215.16,88.33 214.60,88.59 214.04,88.84 C213.49,89.10 212.93,89.35 212.38,89.61 C211.83,89.86 211.28,90.11 210.74,90.36 C210.19,90.61 209.38,90.97 209.11,91.10" fill="none" stroke="#000" stroke-width="0.95"/>
<path d="M279.32,16.40 C279.27,16.88 279.16,18.33 279.04,19.27 C278.93,20.21 278.79,21.14 278.62,22.05 C278.46,22.97 278.27,23.87 278.06,24.75 C277.85,25.64 277.62,26.51 277.36,27.36 C277.10,28.22 276.83,29.06 276.53,29.89 C276.23,30.72 275.90,31.54 275.56,32.34 C275.22,33.14 274.86,33.93 274.48,34.71 C274.10,35.49 273.70,36.25 273.28,37.00 C272.86,37.75 272.42,38.49 271.96,39.21 C271.50,39.94 271.03,40.65 270.54,41.35 C270.04,42.06 269.53,42.74 269.01,43.42 C268.48,44.10 267.94,44.77 267.39,45.42 C266.83,46.07 266.26,46.72 265.67,47.35 C265.08,47.98 264.48,48.60 263.86,49.21 C263.25,49.82 262.62,50.42 261.98,51.00 C261.34,51.59 260.68,52.17 260.01,52.73 C259.35,53.30 258.67,53.86 257.98,54.40 C257.29,54.95 256.58,55.48 255.87,56.01 C255.16,56.54 254.44,57.05 253.71,57.56 C252.98,58.07 252.23,58.56 251.48,59.05 C250.73,59.54 249.97,60.02 249.21,60.49 C248.44,60.96 247.67,61.42 246.88,61.87 C246.10,62.33 245.31,62.77 244.52,63.20 C243.73,63.64 242.92,64.07 242.12,64.49 C241.31,64.90 240.50,65.32 239.68,65.72 C238.87,66.12 238.05,66.52 237.22,66.90 C236.40,67.29 235.57,67.67 234.74,68.05 C233.91,68.42 233.08,68.79 232.24,69.14 C231.40,69.50 230.57,69.85 229.73,70.20 C228.89,70.55 228.04,70.88 227.20,71.22 C226.35,71.55 225.51,71.88 224.66,72.20 C223.81,72.52 222.96,72.83 222.11,73.14 C221.26,73.45 220.40,73.75 219.55,74.04 C218.69,74.34 217.83,74.63 216.97,74.92 C216.12,75.21 215.26,75.49 214.39,75.76 C213.53,76.04 212.67,76.31 211.80,76.58 C210.94,76.84 210.07,77.10 209.21,77.36 C208.34,77.62 207.47,77.87 206.60,78.12 C205.73,78.37 204.86,78.62 203.99,78.86 C203.12,79.10 202.25,79.34 201.38,79.57 C200.51,79.80 199.63,80.03 198.76,80.26 C197.89,80.49 197.01,80.71 196.14,80.93 C195.26,81.16 194.39,81.37 193.51,81.59 C192.64,81.81 191.76,82.02 190.88,82.23 C190.01,82.44 189.13,82.65 188.26,82.85 C187.38,83.06 186.50,83.27 185.63,83.47 C184.75,83.67 183.87,83.87 183.00,84.07 C182.12,84.27 181.25,84.47 180.37,84.66 C179.50,84.86 178.62,85.06 177.75,85.25 C176.87,85.45 176.00,85.64 175.13,85.83 C174.25,86.03 173.38,86.22 172.51,86.41 C171.64,86.60 170.77,86.79 169.90,86.99 C169.03,87.18 168.16,87.37 167.29,87.56 C166.42,87.75 165.55,87.95 164.69,88.14 C163.82,88.33 162.96,88.52 162.10,88.72 C161.23,88.91 160.37,89.11 159.51,89.30 C158.65,89.50 157.79,89.70 156.93,89.90 C156.07,90.09 155.22,90.29 154.36,90.50 C153.51,90.70 152.23,91.00 151.81,91.11" fill="none" stroke="#000" stroke-width="0.95"/>
<path d="M275.11,16.41 C275.02,17.09 274.78,19.17 274.53,20.50 C274.28,21.82 273.96,23.11 273.59,24.36 C273.22,25.61 272.80,26.82 272.32,28.00 C271.85,29.18 271.32,30.33 270.75,31.44 C270.17,32.55 269.55,33.62 268.89,34.67 C268.22,35.71 267.51,36.72 266.77,37.70 C266.02,38.68 265.23,39.63 264.40,40.55 C263.58,41.47 262.72,42.35 261.83,43.21 C260.94,44.07 260.01,44.90 259.06,45.71 C258.11,46.51 257.12,47.29 256.12,48.04 C255.11,48.80 254.08,49.52 253.03,50.22 C251.98,50.92 250.90,51.60 249.81,52.25 C248.72,52.91 247.61,53.54 246.48,54.14 C245.36,54.75 244.21,55.34 243.05,55.91 C241.89,56.47 240.71,57.02 239.52,57.54 C238.34,58.07 237.13,58.58 235.92,59.07 C234.71,59.56 233.48,60.03 232.24,60.48 C231.01,60.94 229.76,61.38 228.51,61.80 C227.26,62.23 226.00,62.63 224.73,63.03 C223.47,63.42 222.19,63.81 220.92,64.17 C219.64,64.54 218.36,64.90 217.08,65.24 C215.80,65.59 214.51,65.92 213.23,66.25 C211.94,66.57 210.66,66.89 209.37,67.19 C208.09,67.50 206.80,67.79 205.52,68.08 C204.24,68.37 202.95,68.65 201.67,68.92 C200.39,69.19 199.11,69.45 197.82,69.70 C196.54,69.96 195.26,70.20 193.98,70.44 C192.70,70.68 191.42,70.91 190.13,71.13 C188.85,71.35 187.57,71.56 186.29,71.77 C185.01,71.98 183.73,72.18 182.45,72.37 C181.17,72.56 179.89,72.75 178.61,72.93 C177.33,73.10 176.05,73.27 174.77,73.44 C173.49,73.60 172.21,73.76 170.93,73.91 C169.65,74.07 168.37,74.21 167.09,74.35 C165.80,74.49 164.52,74.62 163.24,74.75 C161.96,74.88 160.68,75.00 159.40,75.12 C158.12,75.24 156.84,75.35 155.56,75.45 C154.28,75.56 153.00,75.66 151.72,75.76 C150.43,75.85 149.15,75.94 147.87,76.03 C146.59,76.12 145.31,76.20 144.02,76.28 C142.74,76.35 141.46,76.43 140.18,76.50 C138.89,76.56 137.61,76.63 136.33,76.69 C135.04,76.75 133.76,76.81 132.47,76.86 C131.19,76.92 129.90,76.97 128.62,77.02 C127.33,77.06 126.05,77.11 124.76,77.15 C123.47,77.19 122.19,77.23 120.90,77.26 C119.61,77.30 118.32,77.33 117.03,77.36 C115.74,77.39 114.45,77.42 113.16,77.45 C111.87,77.47 110.58,77.50 109.29,77.52 C108.00,77.54 106.71,77.56 105.42,77.58 C104.12,77.60 102.83,77.61 101.53,77.63 C100.24,77.65 98.95,77.66 97.65,77.67 C96.35,77.69 95.06,77.70 93.76,77.71 C92.46,77.72 91.16,77.74 89.86,77.75 C88.56,77.76 87.26,77.77 85.96,77.78 C84.66,77.79 83.36,77.80 82.06,77.81 C80.75,77.82 79.45,77.83 78.14,77.84 C76.84,77.85 75.53,77.86 74.22,77.87 C72.92,77.88 70.95,77.90 70.30,77.91" fill="none" stroke="#000" stroke-width="0.95"/>
<path d="M273.72,16.41 C273.58,17.07 273.22,19.09 272.89,20.37 C272.56,21.65 272.17,22.89 271.74,24.10 C271.30,25.30 270.82,26.47 270.29,27.60 C269.76,28.73 269.18,29.82 268.57,30.88 C267.95,31.94 267.28,32.96 266.58,33.95 C265.88,34.94 265.14,35.90 264.36,36.82 C263.58,37.75 262.76,38.64 261.92,39.50 C261.07,40.36 260.18,41.19 259.27,41.99 C258.36,42.80 257.41,43.57 256.44,44.31 C255.47,45.05 254.47,45.77 253.45,46.45 C252.43,47.14 251.38,47.80 250.31,48.44 C249.24,49.07 248.15,49.68 247.05,50.27 C245.94,50.85 244.82,51.41 243.68,51.95 C242.54,52.49 241.38,53.00 240.22,53.50 C239.06,53.99 237.88,54.46 236.69,54.92 C235.51,55.37 234.31,55.80 233.10,56.21 C231.90,56.63 230.68,57.02 229.46,57.40 C228.23,57.77 227.00,58.13 225.76,58.48 C224.53,58.82 223.28,59.14 222.03,59.46 C220.78,59.77 219.52,60.07 218.26,60.35 C217.00,60.63 215.74,60.90 214.47,61.16 C213.20,61.42 211.93,61.67 210.66,61.90 C209.38,62.14 208.11,62.36 206.83,62.58 C205.55,62.79 204.28,63.00 203.00,63.20 C201.72,63.39 200.44,63.58 199.17,63.77 C197.89,63.95 196.62,64.12 195.34,64.29 C194.07,64.46 192.80,64.62 191.53,64.78 C190.25,64.94 188.98,65.08 187.71,65.23 C186.44,65.37 185.18,65.50 183.91,65.63 C182.64,65.76 181.37,65.88 180.11,66.00 C178.84,66.12 177.57,66.23 176.31,66.33 C175.05,66.43 173.78,66.53 172.52,66.62 C171.25,66.71 169.99,66.80 168.73,66.87 C167.47,66.95 166.21,67.03 164.95,67.09 C163.68,67.16 162.42,67.22 161.16,67.28 C159.90,67.33 158.65,67.38 157.39,67.42 C156.13,67.47 154.87,67.51 153.61,67.54 C152.35,67.57 151.09,67.60 149.84,67.62 C148.58,67.64 147.32,67.66 146.06,67.67 C144.81,67.68 143.55,67.68 142.29,67.68 C141.03,67.68 139.78,67.68 138.52,67.67 C137.26,67.65 136.01,67.64 134.75,67.62 C133.49,67.60 132.24,67.57 130.98,67.54 C129.72,67.51 128.47,67.48 127.21,67.44 C125.95,67.40 124.69,67.35 123.44,67.30 C122.18,67.25 120.92,67.20 119.66,67.14 C118.41,67.08 117.15,67.02 115.89,66.95 C114.63,66.88 113.37,66.81 112.11,66.73 C110.85,66.66 109.59,66.58 108.33,66.49 C107.07,66.41 105.81,66.32 104.55,66.23 C103.29,66.13 102.02,66.04 100.76,65.93 C99.50,65.83 98.23,65.73 96.97,65.62 C95.71,65.51 94.44,65.40 93.18,65.28 C91.91,65.16 90.64,65.04 89.38,64.92 C88.11,64.80 86.84,64.67 85.57,64.54 C84.30,64.41 83.03,64.27 81.76,64.13 C80.49,64.00 79.22,63.86 77.95,63.71 C76.67,63.57 75.40,63.42 74.13,63.27 C72.85,63.12 70.94,62.88 70.30,62.81" fill="none" stroke="#000" stroke-width="0.95"/>
<path d="M272.52,16.40 C272.38,17.07 272.03,19.13 271.69,20.42 C271.36,21.71 270.96,22.95 270.51,24.15 C270.07,25.35 269.56,26.50 269.01,27.61 C268.45,28.72 267.85,29.78 267.20,30.81 C266.55,31.83 265.85,32.81 265.11,33.75 C264.37,34.69 263.58,35.59 262.76,36.45 C261.93,37.31 261.07,38.13 260.17,38.92 C259.28,39.71 258.34,40.46 257.38,41.17 C256.42,41.89 255.42,42.57 254.40,43.22 C253.38,43.87 252.33,44.48 251.25,45.07 C250.18,45.66 249.08,46.21 247.97,46.74 C246.85,47.27 245.72,47.77 244.57,48.24 C243.42,48.72 242.25,49.16 241.07,49.59 C239.89,50.02 238.70,50.42 237.50,50.80 C236.31,51.18 235.10,51.54 233.89,51.88 C232.67,52.22 231.45,52.53 230.23,52.84 C229.00,53.14 227.77,53.42 226.53,53.69 C225.30,53.95 224.05,54.20 222.81,54.44 C221.56,54.67 220.31,54.89 219.06,55.10 C217.81,55.30 216.55,55.49 215.29,55.67 C214.03,55.85 212.77,56.01 211.51,56.17 C210.24,56.33 208.98,56.47 207.71,56.61 C206.45,56.74 205.18,56.87 203.91,56.98 C202.65,57.10 201.38,57.21 200.12,57.32 C198.85,57.42 197.59,57.52 196.32,57.61 C195.06,57.70 193.80,57.78 192.54,57.86 C191.28,57.93 190.02,58.01 188.76,58.07 C187.50,58.13 186.25,58.19 184.99,58.24 C183.73,58.29 182.48,58.33 181.22,58.37 C179.97,58.40 178.72,58.43 177.46,58.45 C176.21,58.47 174.96,58.48 173.71,58.49 C172.46,58.50 171.21,58.49 169.96,58.48 C168.71,58.47 167.47,58.46 166.22,58.43 C164.97,58.41 163.73,58.37 162.48,58.33 C161.24,58.29 159.99,58.24 158.75,58.18 C157.51,58.12 156.26,58.06 155.02,57.98 C153.78,57.91 152.54,57.83 151.30,57.73 C150.06,57.64 148.82,57.54 147.58,57.43 C146.34,57.32 145.11,57.21 143.87,57.08 C142.63,56.95 141.40,56.82 140.16,56.67 C138.92,56.53 137.69,56.37 136.45,56.21 C135.22,56.05 133.99,55.88 132.75,55.70 C131.52,55.53 130.29,55.34 129.06,55.15 C127.83,54.96 126.59,54.76 125.36,54.55 C124.13,54.35 122.90,54.13 121.67,53.91 C120.44,53.69 119.22,53.47 117.99,53.23 C116.76,53.00 115.53,52.76 114.30,52.52 C113.08,52.28 111.85,52.03 110.62,51.78 C109.40,51.52 108.17,51.26 106.95,51.00 C105.72,50.74 104.50,50.47 103.27,50.20 C102.05,49.92 100.82,49.65 99.60,49.37 C98.38,49.09 97.15,48.81 95.93,48.52 C94.71,48.23 93.49,47.94 92.26,47.65 C91.04,47.36 89.82,47.06 88.60,46.77 C87.38,46.47 86.16,46.17 84.94,45.87 C83.72,45.57 82.49,45.26 81.27,44.96 C80.05,44.65 78.83,44.35 77.61,44.04 C76.40,43.74 75.18,43.43 73.96,43.12 C72.74,42.81 70.91,42.35 70.30,42.19" fill="none" stroke="#000" stroke-width="0.95"/>
<path d="M271.61,16.40 C271.51,17.03 271.27,18.97 270.99,20.19 C270.71,21.41 270.34,22.59 269.91,23.73 C269.49,24.87 268.98,25.97 268.43,27.02 C267.87,28.08 267.24,29.10 266.57,30.07 C265.89,31.05 265.16,31.98 264.38,32.88 C263.60,33.78 262.76,34.63 261.89,35.45 C261.02,36.27 260.09,37.05 259.14,37.79 C258.19,38.54 257.20,39.24 256.18,39.91 C255.17,40.58 254.11,41.21 253.04,41.80 C251.97,42.40 250.87,42.96 249.76,43.48 C248.65,44.00 247.52,44.49 246.38,44.94 C245.23,45.40 244.07,45.82 242.91,46.22 C241.74,46.61 240.55,46.98 239.36,47.32 C238.17,47.66 236.97,47.97 235.77,48.27 C234.56,48.56 233.35,48.83 232.13,49.08 C230.92,49.34 229.70,49.57 228.48,49.79 C227.26,50.01 226.04,50.21 224.82,50.40 C223.60,50.59 222.38,50.77 221.16,50.94 C219.95,51.11 218.73,51.26 217.52,51.41 C216.31,51.55 215.10,51.69 213.89,51.81 C212.67,51.93 211.46,52.04 210.26,52.14 C209.05,52.24 207.84,52.33 206.63,52.41 C205.42,52.49 204.21,52.56 203.01,52.62 C201.80,52.68 200.59,52.73 199.39,52.77 C198.18,52.81 196.97,52.84 195.76,52.87 C194.56,52.89 193.35,52.90 192.14,52.90 C190.93,52.91 189.73,52.90 188.52,52.89 C187.31,52.87 186.10,52.85 184.88,52.82 C183.67,52.79 182.46,52.75 181.25,52.71 C180.03,52.66 178.82,52.61 177.60,52.54 C176.38,52.48 175.17,52.41 173.95,52.34 C172.73,52.26 171.50,52.18 170.28,52.09 C169.06,52.00 167.83,51.90 166.60,51.80 C165.37,51.69 164.14,51.58 162.91,51.47 C161.68,51.35 160.45,51.22 159.22,51.09 C157.99,50.95 156.76,50.81 155.53,50.66 C154.30,50.51 153.07,50.35 151.84,50.18 C150.61,50.01 149.38,49.84 148.15,49.65 C146.92,49.46 145.69,49.27 144.47,49.06 C143.24,48.86 142.02,48.64 140.80,48.42 C139.58,48.19 138.37,47.95 137.15,47.71 C135.94,47.47 134.73,47.22 133.52,46.96 C132.32,46.70 131.11,46.44 129.91,46.16 C128.72,45.89 127.52,45.61 126.33,45.33 C125.15,45.04 123.96,44.74 122.78,44.44 C121.61,44.13 120.43,43.81 119.27,43.48 C118.10,43.15 116.94,42.80 115.79,42.44 C114.64,42.07 113.49,41.69 112.35,41.29 C111.21,40.89 110.08,40.47 108.96,40.03 C107.84,39.58 106.72,39.12 105.62,38.63 C104.51,38.14 103.41,37.62 102.32,37.08 C101.24,36.53 100.15,35.96 99.10,35.36 C98.05,34.75 97.00,34.12 96.00,33.44 C94.99,32.77 94.00,32.06 93.07,31.31 C92.13,30.56 91.22,29.77 90.37,28.93 C89.52,28.09 88.71,27.20 87.97,26.27 C87.23,25.33 86.53,24.35 85.91,23.31 C85.30,22.27 84.74,21.18 84.26,20.03 C83.79,18.88 83.27,17.01 83.07,16.40" fill="none" stroke="#000" stroke-width="0.95"/>
<path d="M270.91,16.40 C270.84,16.96 270.68,18.67 270.47,19.75 C270.26,20.83 269.99,21.87 269.66,22.87 C269.33,23.88 268.93,24.84 268.49,25.77 C268.05,26.70 267.55,27.59 267.01,28.44 C266.46,29.30 265.87,30.12 265.23,30.90 C264.60,31.69 263.92,32.44 263.21,33.16 C262.49,33.88 261.74,34.57 260.95,35.23 C260.17,35.89 259.35,36.51 258.51,37.11 C257.66,37.70 256.79,38.27 255.90,38.81 C255.00,39.34 254.08,39.85 253.15,40.33 C252.22,40.82 251.27,41.27 250.31,41.70 C249.35,42.13 248.38,42.53 247.40,42.91 C246.42,43.29 245.43,43.64 244.43,43.98 C243.43,44.31 242.42,44.62 241.41,44.91 C240.40,45.21 239.38,45.48 238.35,45.73 C237.32,45.98 236.29,46.22 235.26,46.44 C234.23,46.65 233.19,46.85 232.15,47.04 C231.11,47.23 230.06,47.40 229.02,47.56 C227.98,47.73 226.93,47.87 225.89,48.01 C224.84,48.15 223.80,48.27 222.76,48.39 C221.72,48.51 220.68,48.62 219.64,48.71 C218.60,48.81 217.56,48.90 216.52,48.98 C215.49,49.06 214.45,49.13 213.41,49.19 C212.38,49.25 211.34,49.30 210.30,49.34 C209.27,49.39 208.23,49.42 207.20,49.44 C206.16,49.47 205.13,49.49 204.09,49.50 C203.06,49.51 202.03,49.51 200.99,49.50 C199.96,49.49 198.92,49.48 197.89,49.46 C196.85,49.44 195.82,49.41 194.78,49.37 C193.75,49.33 192.71,49.29 191.68,49.24 C190.64,49.19 189.61,49.13 188.57,49.06 C187.53,49.00 186.49,48.93 185.46,48.85 C184.42,48.77 183.38,48.69 182.34,48.60 C181.30,48.51 180.26,48.41 179.21,48.31 C178.17,48.21 177.13,48.10 176.08,47.99 C175.04,47.88 173.99,47.76 172.95,47.63 C171.90,47.51 170.85,47.38 169.80,47.25 C168.75,47.11 167.70,46.98 166.64,46.83 C165.59,46.68 164.54,46.53 163.49,46.37 C162.44,46.21 161.38,46.05 160.34,45.87 C159.29,45.69 158.24,45.51 157.20,45.31 C156.15,45.11 155.11,44.90 154.08,44.68 C153.04,44.46 152.01,44.23 150.98,43.98 C149.96,43.74 148.93,43.48 147.92,43.20 C146.91,42.93 145.90,42.64 144.90,42.33 C143.90,42.03 142.90,41.71 141.92,41.36 C140.94,41.02 139.96,40.67 139.00,40.29 C138.04,39.91 137.08,39.51 136.14,39.10 C135.20,38.68 134.26,38.24 133.34,37.78 C132.42,37.32 131.52,36.84 130.62,36.33 C129.73,35.82 128.85,35.29 127.98,34.74 C127.12,34.19 126.27,33.61 125.43,33.01 C124.60,32.41 123.78,31.78 122.98,31.13 C122.18,30.48 121.39,29.80 120.63,29.10 C119.87,28.39 119.13,27.66 118.42,26.90 C117.72,26.14 117.03,25.36 116.39,24.54 C115.75,23.72 115.14,22.88 114.58,22.01 C114.02,21.13 113.50,20.23 113.03,19.30 C112.56,18.36 111.98,16.89 111.77,16.41" fill="none" stroke="#000" stroke-width="0.95"/>
<path d="M270.32,16.40 C270.24,16.89 270.04,18.39 269.83,19.33 C269.63,20.28 269.38,21.19 269.09,22.07 C268.80,22.96 268.46,23.81 268.09,24.63 C267.72,25.46 267.31,26.25 266.86,27.02 C266.42,27.78 265.93,28.52 265.42,29.23 C264.91,29.94 264.36,30.63 263.78,31.29 C263.20,31.94 262.59,32.57 261.95,33.18 C261.32,33.79 260.65,34.37 259.96,34.92 C259.28,35.48 258.56,36.01 257.82,36.52 C257.09,37.03 256.33,37.51 255.55,37.97 C254.78,38.44 253.98,38.88 253.17,39.30 C252.36,39.71 251.52,40.11 250.68,40.49 C249.84,40.86 248.98,41.22 248.12,41.56 C247.25,41.89 246.37,42.21 245.48,42.51 C244.60,42.81 243.70,43.08 242.80,43.35 C241.90,43.61 241.00,43.85 240.09,44.08 C239.18,44.31 238.27,44.52 237.36,44.71 C236.45,44.91 235.54,45.09 234.63,45.25 C233.72,45.42 232.81,45.57 231.91,45.70 C231.00,45.84 230.09,45.96 229.18,46.07 C228.27,46.18 227.37,46.28 226.46,46.36 C225.55,46.45 224.65,46.52 223.74,46.58 C222.83,46.64 221.92,46.69 221.01,46.73 C220.11,46.78 219.20,46.81 218.29,46.83 C217.38,46.85 216.47,46.86 215.56,46.87 C214.65,46.87 213.74,46.87 212.83,46.86 C211.92,46.85 211.01,46.83 210.09,46.81 C209.18,46.79 208.27,46.76 207.35,46.72 C206.44,46.69 205.52,46.65 204.60,46.60 C203.69,46.56 202.77,46.51 201.85,46.46 C200.93,46.41 200.01,46.35 199.08,46.30 C198.16,46.24 197.24,46.18 196.31,46.12 C195.39,46.05 194.46,45.98 193.54,45.91 C192.61,45.84 191.68,45.76 190.76,45.68 C189.83,45.60 188.91,45.51 187.98,45.42 C187.05,45.33 186.13,45.23 185.21,45.12 C184.28,45.01 183.36,44.90 182.44,44.78 C181.52,44.66 180.60,44.53 179.68,44.39 C178.77,44.25 177.85,44.11 176.94,43.95 C176.03,43.80 175.12,43.63 174.22,43.46 C173.31,43.28 172.41,43.10 171.51,42.90 C170.61,42.71 169.71,42.50 168.82,42.28 C167.93,42.06 167.05,41.83 166.16,41.59 C165.28,41.35 164.40,41.09 163.53,40.82 C162.66,40.55 161.79,40.27 160.93,39.98 C160.07,39.68 159.22,39.37 158.37,39.04 C157.52,38.72 156.67,38.38 155.84,38.02 C155.00,37.67 154.17,37.29 153.35,36.91 C152.53,36.52 151.71,36.11 150.91,35.69 C150.10,35.27 149.30,34.83 148.52,34.37 C147.74,33.91 146.96,33.43 146.21,32.93 C145.45,32.43 144.71,31.91 143.99,31.37 C143.27,30.83 142.56,30.27 141.88,29.68 C141.20,29.10 140.54,28.49 139.91,27.86 C139.28,27.23 138.67,26.57 138.09,25.89 C137.51,25.21 136.95,24.50 136.43,23.77 C135.91,23.04 135.42,22.28 134.97,21.49 C134.51,20.70 134.09,19.88 133.71,19.04 C133.33,18.19 132.85,16.85 132.68,16.41" fill="none" stroke="#000" stroke-width="0.95"/>
<path d="M269.72,16.39 C269.69,16.83 269.68,18.19 269.57,19.05 C269.46,19.91 269.30,20.74 269.09,21.54 C268.87,22.35 268.61,23.13 268.30,23.88 C267.99,24.63 267.64,25.36 267.25,26.06 C266.86,26.76 266.42,27.44 265.96,28.09 C265.50,28.74 265.00,29.37 264.48,29.97 C263.96,30.58 263.40,31.16 262.83,31.72 C262.26,32.28 261.66,32.81 261.05,33.33 C260.44,33.85 259.81,34.34 259.17,34.81 C258.54,35.28 257.88,35.74 257.22,36.17 C256.56,36.60 255.88,37.01 255.20,37.41 C254.51,37.80 253.81,38.17 253.11,38.53 C252.40,38.88 251.68,39.22 250.96,39.54 C250.23,39.86 249.49,40.16 248.75,40.45 C248.00,40.74 247.25,41.00 246.49,41.26 C245.73,41.51 244.96,41.75 244.18,41.97 C243.40,42.20 242.62,42.41 241.83,42.60 C241.04,42.79 240.24,42.97 239.44,43.14 C238.64,43.31 237.83,43.46 237.02,43.60 C236.21,43.75 235.39,43.87 234.57,43.99 C233.74,44.11 232.92,44.21 232.09,44.31 C231.26,44.41 230.43,44.49 229.59,44.57 C228.76,44.64 227.92,44.71 227.08,44.76 C226.24,44.82 225.40,44.86 224.55,44.90 C223.71,44.94 222.87,44.97 222.03,45.00 C221.18,45.02 220.34,45.04 219.49,45.05 C218.65,45.06 217.81,45.06 216.96,45.05 C216.12,45.05 215.28,45.04 214.44,45.02 C213.60,45.01 212.76,44.98 211.92,44.95 C211.08,44.92 210.24,44.89 209.40,44.84 C208.56,44.80 207.73,44.75 206.89,44.69 C206.06,44.64 205.22,44.57 204.39,44.51 C203.56,44.44 202.73,44.36 201.90,44.28 C201.07,44.20 200.24,44.11 199.42,44.01 C198.59,43.92 197.77,43.82 196.95,43.71 C196.13,43.61 195.31,43.49 194.50,43.37 C193.68,43.25 192.87,43.13 192.05,42.99 C191.24,42.86 190.44,42.72 189.63,42.58 C188.82,42.43 188.02,42.28 187.22,42.13 C186.42,41.97 185.63,41.80 184.83,41.63 C184.04,41.46 183.25,41.28 182.46,41.09 C181.68,40.90 180.89,40.70 180.12,40.49 C179.34,40.28 178.56,40.06 177.79,39.83 C177.02,39.60 176.25,39.36 175.49,39.11 C174.72,38.86 173.96,38.59 173.21,38.32 C172.45,38.04 171.70,37.75 170.95,37.45 C170.21,37.14 169.46,36.83 168.73,36.50 C167.99,36.16 167.26,35.82 166.53,35.45 C165.80,35.09 165.08,34.72 164.36,34.32 C163.64,33.93 162.93,33.52 162.22,33.09 C161.52,32.66 160.81,32.21 160.13,31.75 C159.44,31.28 158.76,30.80 158.10,30.30 C157.45,29.80 156.80,29.27 156.19,28.73 C155.58,28.19 154.98,27.62 154.43,27.03 C153.87,26.45 153.34,25.84 152.85,25.21 C152.36,24.57 151.90,23.92 151.50,23.24 C151.09,22.56 150.72,21.86 150.41,21.13 C150.10,20.40 149.83,19.64 149.63,18.86 C149.42,18.08 149.25,16.84 149.18,16.43" fill="none" stroke="#000" stroke-width="0.95"/>
<line x1="70.3" y1="53.6" x2="444.8" y2="53.6" stroke="#262626" stroke-opacity="0.14" stroke-width="0.7"/>
<line x1="257.5" y1="16.4" x2="257.5" y2="91.1" stroke="#262626" stroke-opacity="0.1" stroke-width="0.7"/>
</g>
<rect x="70.3" y="16.4" width="374.5" height="74.7" fill="none" stroke="#262626" stroke-width="0.7"/>
<path d="M257.5,91.1 v-4 M257.5,16.4 v4" stroke="#262626" stroke-width="0.7"/>
<path d="M70.3,53.6 h4 M444.8,53.6 h-4" stroke="#262626" stroke-width="0.7"/>
<text transform="translate(63.2,24.8) scale(1,1.03)" font-size="22" text-anchor="end" font-family="Liberation Sans, Arial, sans-serif" fill="#262626">0.2</text>
<text transform="translate(63.2,62.2) scale(1,1.03)" font-size="22" text-anchor="end" font-family="Liberation Sans, Arial, sans-serif" fill="#262626">0.1</text>
<text transform="translate(63.2,99.6) scale(1,1.03)" font-size="22" text-anchor="end" font-family="Liberation Sans, Arial, sans-serif" fill="#262626">0</text>
<text transform="translate(70,121.4) scale(1,1.03)" font-size="22" text-anchor="middle" font-family="Liberation Sans, Arial, sans-serif" fill="#262626">0</text>
<text transform="translate(257.5,121.4) scale(1,1.03)" font-size="22" text-anchor="middle" font-family="Liberation Sans, Arial, sans-serif" fill="#262626">0.5</text>
<text transform="translate(444.5,121.4) scale(1,1.03)" font-size="22" text-anchor="middle" font-family="Liberation Sans, Arial, sans-serif" fill="#262626">1</text>
<text transform="translate(257.3,151.8) scale(1,1.03)" font-size="24.2" text-anchor="middle" font-family="Liberation Sans, Arial, sans-serif" fill="#262626">x(mm)</text>
<text transform="translate(21.9,53.0) rotate(-90)" font-size="24.4" text-anchor="middle" font-family="Liberation Sans, Arial, sans-serif" fill="#262626">z(mm)</text>
<rect x="472" y="16.4" width="21.2" height="74.9" fill="url(#cb)" stroke="#333" stroke-width="0.6"/>
<path d="M493.2,72.99 h-1.6" stroke="#262626" stroke-opacity="0.7" stroke-width="0.6"/>
<text transform="translate(499.6,80.99) scale(1,1.03)" font-size="20.6" font-family="Liberation Sans, Arial, sans-serif" fill="#262626">500</text>
<path d="M493.2,54.13 h-1.6" stroke="#262626" stroke-opacity="0.7" stroke-width="0.6"/>
<text transform="translate(499.6,62.13) scale(1,1.03)" font-size="20.6" font-family="Liberation Sans, Arial, sans-serif" fill="#262626">1000</text>
<path d="M493.2,35.26 h-1.6" stroke="#262626" stroke-opacity="0.7" stroke-width="0.6"/>
<text transform="translate(499.6,43.26) scale(1,1.03)" font-size="20.6" font-family="Liberation Sans, Arial, sans-serif" fill="#262626">1500</text>
<text transform="translate(499.6,24.40) scale(1,1.03)" font-size="20.6" font-family="Liberation Sans, Arial, sans-serif" fill="#262626">2000</text>
<rect x="64.8" y="174.2" width="377.7" height="74.8" fill="#fff"/>
<path d="M120.87,174.23 C121.03,174.77 121.42,176.44 121.82,177.48 C122.22,178.52 122.71,179.52 123.27,180.48 C123.83,181.43 124.48,182.35 125.17,183.23 C125.87,184.11 126.64,184.95 127.46,185.75 C128.27,186.56 129.14,187.33 130.05,188.06 C130.96,188.80 131.92,189.50 132.90,190.18 C133.88,190.85 134.90,191.49 135.93,192.10 C136.95,192.72 138.01,193.30 139.07,193.86 C140.13,194.42 141.20,194.95 142.28,195.46 C143.35,195.97 144.43,196.45 145.51,196.92 C146.59,197.38 147.68,197.81 148.77,198.23 C149.86,198.65 150.96,199.04 152.06,199.42 C153.16,199.79 154.27,200.14 155.38,200.48 C156.49,200.81 157.60,201.12 158.72,201.42 C159.84,201.72 160.97,202.00 162.10,202.26 C163.22,202.52 164.36,202.77 165.49,203.00 C166.63,203.23 167.77,203.44 168.92,203.64 C170.06,203.84 171.21,204.03 172.37,204.20 C173.52,204.37 174.68,204.53 175.84,204.68 C177.01,204.83 178.17,204.96 179.34,205.09 C180.51,205.22 181.69,205.33 182.87,205.44 C184.04,205.55 185.23,205.64 186.41,205.73 C187.60,205.82 188.79,205.90 189.98,205.98 C191.17,206.05 192.37,206.12 193.57,206.19 C194.77,206.25 195.98,206.31 197.19,206.36 C198.39,206.41 199.61,206.46 200.82,206.50 C202.03,206.54 203.25,206.58 204.46,206.60 C205.67,206.63 206.89,206.64 208.10,206.65 C209.32,206.65 210.53,206.64 211.74,206.62 C212.95,206.60 214.16,206.57 215.37,206.52 C216.57,206.47 217.77,206.41 218.97,206.33 C220.16,206.25 221.35,206.16 222.54,206.04 C223.72,205.92 224.90,205.79 226.07,205.63 C227.24,205.48 228.40,205.30 229.55,205.10 C230.70,204.90 231.85,204.68 232.98,204.43 C234.11,204.19 235.24,203.92 236.35,203.62 C237.46,203.32 238.56,203.00 239.64,202.64 C240.72,202.29 241.80,201.91 242.85,201.49 C243.91,201.08 244.95,200.64 245.98,200.16 C247.00,199.69 248.01,199.18 249.01,198.64 C250.00,198.09 250.97,197.52 251.93,196.90 C252.88,196.29 253.83,195.64 254.73,194.95 C255.64,194.26 256.53,193.54 257.37,192.77 C258.22,192.00 259.04,191.20 259.80,190.35 C260.57,189.50 261.29,188.61 261.96,187.67 C262.63,186.73 263.25,185.75 263.80,184.73 C264.36,183.70 264.86,182.63 265.28,181.51 C265.70,180.39 266.06,179.22 266.33,178.00 C266.60,176.78 266.81,174.83 266.91,174.19 Z" fill="#12beb9" stroke="#1a1a1a" stroke-width="0.7"/>
<line x1="140.34" y1="174.2" x2="140.34" y2="249" stroke="#262626" stroke-opacity="0.15" stroke-width="0.8"/>
<line x1="215.88" y1="174.2" x2="215.88" y2="249" stroke="#262626" stroke-opacity="0.15" stroke-width="0.8"/>
<line x1="291.42" y1="174.2" x2="291.42" y2="249" stroke="#262626" stroke-opacity="0.15" stroke-width="0.8"/>
<line x1="366.96" y1="174.2" x2="366.96" y2="249" stroke="#262626" stroke-opacity="0.15" stroke-width="0.8"/>
<line x1="64.8" y1="211.60" x2="442.5" y2="211.60" stroke="#262626" stroke-opacity="0.15" stroke-width="0.8"/>
<rect x="64.8" y="174.2" width="377.7" height="74.8" fill="none" stroke="#4a4a4a" stroke-width="0.8"/>
<path d="M140.34,249 v-3.8 M140.34,174.2 v3.8" stroke="#262626" stroke-width="0.8"/>
<path d="M215.88,249 v-3.8 M215.88,174.2 v3.8" stroke="#262626" stroke-width="0.8"/>
<path d="M291.42,249 v-3.8 M291.42,174.2 v3.8" stroke="#262626" stroke-width="0.8"/>
<path d="M366.96,249 v-3.8 M366.96,174.2 v3.8" stroke="#262626" stroke-width="0.8"/>
<path d="M64.8,211.60 h3.8 M442.5,211.60 h-3.8" stroke="#262626" stroke-width="0.8"/>
<text transform="translate(58.4,181.9) scale(1,1.03)" font-size="19.2" text-anchor="end" font-family="Liberation Sans, Arial, sans-serif" fill="#262626">0.2</text>
<text transform="translate(58.4,219.1) scale(1,1.03)" font-size="19.2" text-anchor="end" font-family="Liberation Sans, Arial, sans-serif" fill="#262626">0.1</text>
<text transform="translate(58.4,256.3) scale(1,1.03)" font-size="19.2" text-anchor="end" font-family="Liberation Sans, Arial, sans-serif" fill="#262626">0</text>
<text transform="translate(64.80,274.9) scale(1,1.03)" font-size="19.2" text-anchor="middle" font-family="Liberation Sans, Arial, sans-serif" fill="#262626">0</text>
<text transform="translate(140.34,274.9) scale(1,1.03)" font-size="19.2" text-anchor="middle" font-family="Liberation Sans, Arial, sans-serif" fill="#262626">0.2</text>
<text transform="translate(215.88,274.9) scale(1,1.03)" font-size="19.2" text-anchor="middle" font-family="Liberation Sans, Arial, sans-serif" fill="#262626">0.4</text>
<text transform="translate(291.42,274.9) scale(1,1.03)" font-size="19.2" text-anchor="middle" font-family="Liberation Sans, Arial, sans-serif" fill="#262626">0.6</text>
<text transform="translate(366.96,274.9) scale(1,1.03)" font-size="19.2" text-anchor="middle" font-family="Liberation Sans, Arial, sans-serif" fill="#262626">0.8</text>
<text transform="translate(442.50,274.9) scale(1,1.03)" font-size="19.2" text-anchor="middle" font-family="Liberation Sans, Arial, sans-serif" fill="#262626">1</text>
<text transform="translate(253.9,301.3) scale(1,1.03)" font-size="21.4" text-anchor="middle" font-family="Liberation Sans, Arial, sans-serif" fill="#262626">x(mm)</text>
<text transform="translate(23.4,211.4) rotate(-90) scale(1.01,1)" font-size="21.3" text-anchor="middle" font-family="Liberation Sans, Arial, sans-serif" fill="#262626">z(mm)</text>
<text x="282.5" y="330.7" font-size="16" text-anchor="middle" font-family="Liberation Serif, serif" fill="#111">(<tspan font-weight="bold">b</tspan>)</text>
</svg>
</body></html>
